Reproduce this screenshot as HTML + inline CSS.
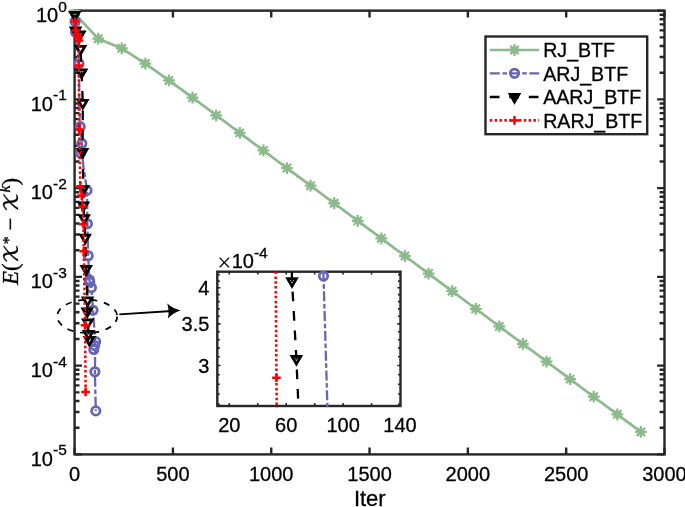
<!DOCTYPE html>
<html><head><meta charset="utf-8"><title>Convergence plot</title>
<style>html,body{margin:0;padding:0;background:#fff;}svg{display:block;}text{stroke:#000;stroke-width:0.3px;stroke-linejoin:round;}</style></head>
<body>
<svg width="685" height="507" viewBox="0 0 685 507">
<defs><clipPath id="cm"><rect x="40" y="9.4" width="624.5" height="445.0"/></clipPath><clipPath id="ci"><rect x="216.1" y="270.5" width="185.6" height="136.7"/></clipPath></defs>
<rect width="685" height="507" fill="#fff"/>
<path d="M74.60 454.40V447.60M74.60 10.65V17.45M172.92 454.40V447.60M172.92 10.65V17.45M271.23 454.40V447.60M271.23 10.65V17.45M369.55 454.40V447.60M369.55 10.65V17.45M467.87 454.40V447.60M467.87 10.65V17.45M566.18 454.40V447.60M566.18 10.65V17.45M664.50 454.40V447.60M664.50 10.65V17.45M74.60 10.65H82.00M664.50 10.65H657.10M74.60 99.40H82.00M664.50 99.40H657.10M74.60 188.15H82.00M664.50 188.15H657.10M74.60 276.90H82.00M664.50 276.90H657.10M74.60 365.65H82.00M664.50 365.65H657.10M74.60 454.40H82.00M664.50 454.40H657.10M74.60 72.68H79.50M664.50 72.68H659.60M74.60 57.06H79.50M664.50 57.06H659.60M74.60 45.97H79.50M664.50 45.97H659.60M74.60 37.37H79.50M664.50 37.37H659.60M74.60 30.34H79.50M664.50 30.34H659.60M74.60 24.40H79.50M664.50 24.40H659.60M74.60 19.25H79.50M664.50 19.25H659.60M74.60 14.71H79.50M664.50 14.71H659.60M74.60 161.43H79.50M664.50 161.43H659.60M74.60 145.81H79.50M664.50 145.81H659.60M74.60 134.72H79.50M664.50 134.72H659.60M74.60 126.12H79.50M664.50 126.12H659.60M74.60 119.09H79.50M664.50 119.09H659.60M74.60 113.15H79.50M664.50 113.15H659.60M74.60 108.00H79.50M664.50 108.00H659.60M74.60 103.46H79.50M664.50 103.46H659.60M74.60 250.18H79.50M664.50 250.18H659.60M74.60 234.56H79.50M664.50 234.56H659.60M74.60 223.47H79.50M664.50 223.47H659.60M74.60 214.87H79.50M664.50 214.87H659.60M74.60 207.84H79.50M664.50 207.84H659.60M74.60 201.90H79.50M664.50 201.90H659.60M74.60 196.75H79.50M664.50 196.75H659.60M74.60 192.21H79.50M664.50 192.21H659.60M74.60 338.93H79.50M664.50 338.93H659.60M74.60 323.31H79.50M664.50 323.31H659.60M74.60 312.22H79.50M664.50 312.22H659.60M74.60 303.62H79.50M664.50 303.62H659.60M74.60 296.59H79.50M664.50 296.59H659.60M74.60 290.65H79.50M664.50 290.65H659.60M74.60 285.50H79.50M664.50 285.50H659.60M74.60 280.96H79.50M664.50 280.96H659.60M74.60 427.68H79.50M664.50 427.68H659.60M74.60 412.06H79.50M664.50 412.06H659.60M74.60 400.97H79.50M664.50 400.97H659.60M74.60 392.37H79.50M664.50 392.37H659.60M74.60 385.34H79.50M664.50 385.34H659.60M74.60 379.40H79.50M664.50 379.40H659.60M74.60 374.25H79.50M664.50 374.25H659.60M74.60 369.71H79.50M664.50 369.71H659.60" stroke="#262626" stroke-width="2.4" fill="none"/>
<rect x="74.6" y="10.65" width="589.90" height="443.75" stroke="#262626" stroke-width="2.4" fill="none"/>
<g clip-path="url(#cm)">
<path d="M74.60 10.65 L75.00 14.00 L98.20 38.70 L121.79 48.30 L145.39 63.60 L168.98 80.40 L192.58 97.70 L216.18 115.29 L239.77 132.88 L263.37 150.47 L286.96 168.06 L310.56 185.65 L334.16 203.24 L357.75 220.83 L381.35 238.42 L404.94 256.01 L428.54 273.60 L452.14 291.19 L475.73 308.78 L499.33 326.36 L522.92 343.95 L546.52 361.54 L570.12 379.13 L593.71 396.72 L617.31 414.31 L640.90 431.90" stroke="#8cba8c" stroke-width="2.7" fill="none" stroke-linecap="butt" stroke-linejoin="round"/>
<circle cx="74.60" cy="10.65" r="3.5" fill="#8cba8c"/><path d="M68.70 10.65H80.50M74.60 4.75V16.55M70.43 6.48L78.77 14.82M70.43 14.82L78.77 6.48" stroke="#8cba8c" stroke-width="2.3" fill="none"/>
<circle cx="98.20" cy="38.70" r="3.5" fill="#8cba8c"/><path d="M92.30 38.70H104.10M98.20 32.80V44.60M94.02 34.53L102.37 42.87M94.02 42.87L102.37 34.53" stroke="#8cba8c" stroke-width="2.3" fill="none"/>
<circle cx="121.79" cy="48.30" r="3.5" fill="#8cba8c"/><path d="M115.89 48.30H127.69M121.79 42.40V54.20M117.62 44.13L125.96 52.47M117.62 52.47L125.96 44.13" stroke="#8cba8c" stroke-width="2.3" fill="none"/>
<circle cx="145.39" cy="63.60" r="3.5" fill="#8cba8c"/><path d="M139.49 63.60H151.29M145.39 57.70V69.50M141.22 59.43L149.56 67.77M141.22 67.77L149.56 59.43" stroke="#8cba8c" stroke-width="2.3" fill="none"/>
<circle cx="168.98" cy="80.40" r="3.5" fill="#8cba8c"/><path d="M163.08 80.40H174.88M168.98 74.50V86.30M164.81 76.23L173.16 84.57M164.81 84.57L173.16 76.23" stroke="#8cba8c" stroke-width="2.3" fill="none"/>
<circle cx="192.58" cy="97.70" r="3.5" fill="#8cba8c"/><path d="M186.68 97.70H198.48M192.58 91.80V103.60M188.41 93.53L196.75 101.87M188.41 101.87L196.75 93.53" stroke="#8cba8c" stroke-width="2.3" fill="none"/>
<circle cx="216.18" cy="115.29" r="3.5" fill="#8cba8c"/><path d="M210.28 115.29H222.08M216.18 109.39V121.19M212.00 111.12L220.35 119.46M212.00 119.46L220.35 111.12" stroke="#8cba8c" stroke-width="2.3" fill="none"/>
<circle cx="239.77" cy="132.88" r="3.5" fill="#8cba8c"/><path d="M233.87 132.88H245.67M239.77 126.98V138.78M235.60 128.71L243.94 137.05M235.60 137.05L243.94 128.71" stroke="#8cba8c" stroke-width="2.3" fill="none"/>
<circle cx="263.37" cy="150.47" r="3.5" fill="#8cba8c"/><path d="M257.47 150.47H269.27M263.37 144.57V156.37M259.20 146.30L267.54 154.64M259.20 154.64L267.54 146.30" stroke="#8cba8c" stroke-width="2.3" fill="none"/>
<circle cx="286.96" cy="168.06" r="3.5" fill="#8cba8c"/><path d="M281.06 168.06H292.86M286.96 162.16V173.96M282.79 163.89L291.14 172.23M282.79 172.23L291.14 163.89" stroke="#8cba8c" stroke-width="2.3" fill="none"/>
<circle cx="310.56" cy="185.65" r="3.5" fill="#8cba8c"/><path d="M304.66 185.65H316.46M310.56 179.75V191.55M306.39 181.48L314.73 189.82M306.39 189.82L314.73 181.48" stroke="#8cba8c" stroke-width="2.3" fill="none"/>
<circle cx="334.16" cy="203.24" r="3.5" fill="#8cba8c"/><path d="M328.26 203.24H340.06M334.16 197.34V209.14M329.98 199.07L338.33 207.41M329.98 207.41L338.33 199.07" stroke="#8cba8c" stroke-width="2.3" fill="none"/>
<circle cx="357.75" cy="220.83" r="3.5" fill="#8cba8c"/><path d="M351.85 220.83H363.65M357.75 214.93V226.73M353.58 216.66L361.92 225.00M353.58 225.00L361.92 216.66" stroke="#8cba8c" stroke-width="2.3" fill="none"/>
<circle cx="381.35" cy="238.42" r="3.5" fill="#8cba8c"/><path d="M375.45 238.42H387.25M381.35 232.52V244.32M377.18 234.24L385.52 242.59M377.18 242.59L385.52 234.24" stroke="#8cba8c" stroke-width="2.3" fill="none"/>
<circle cx="404.94" cy="256.01" r="3.5" fill="#8cba8c"/><path d="M399.04 256.01H410.84M404.94 250.11V261.91M400.77 251.83L409.12 260.18M400.77 260.18L409.12 251.83" stroke="#8cba8c" stroke-width="2.3" fill="none"/>
<circle cx="428.54" cy="273.60" r="3.5" fill="#8cba8c"/><path d="M422.64 273.60H434.44M428.54 267.70V279.50M424.37 269.42L432.71 277.77M424.37 277.77L432.71 269.42" stroke="#8cba8c" stroke-width="2.3" fill="none"/>
<circle cx="452.14" cy="291.19" r="3.5" fill="#8cba8c"/><path d="M446.24 291.19H458.04M452.14 285.29V297.09M447.96 287.01L456.31 295.36M447.96 295.36L456.31 287.01" stroke="#8cba8c" stroke-width="2.3" fill="none"/>
<circle cx="475.73" cy="308.78" r="3.5" fill="#8cba8c"/><path d="M469.83 308.78H481.63M475.73 302.88V314.68M471.56 304.60L479.90 312.95M471.56 312.95L479.90 304.60" stroke="#8cba8c" stroke-width="2.3" fill="none"/>
<circle cx="499.33" cy="326.36" r="3.5" fill="#8cba8c"/><path d="M493.43 326.36H505.23M499.33 320.46V332.26M495.16 322.19L503.50 330.54M495.16 330.54L503.50 322.19" stroke="#8cba8c" stroke-width="2.3" fill="none"/>
<circle cx="522.92" cy="343.95" r="3.5" fill="#8cba8c"/><path d="M517.02 343.95H528.82M522.92 338.05V349.85M518.75 339.78L527.10 348.13M518.75 348.13L527.10 339.78" stroke="#8cba8c" stroke-width="2.3" fill="none"/>
<circle cx="546.52" cy="361.54" r="3.5" fill="#8cba8c"/><path d="M540.62 361.54H552.42M546.52 355.64V367.44M542.35 357.37L550.69 365.72M542.35 365.72L550.69 357.37" stroke="#8cba8c" stroke-width="2.3" fill="none"/>
<circle cx="570.12" cy="379.13" r="3.5" fill="#8cba8c"/><path d="M564.22 379.13H576.02M570.12 373.23V385.03M565.94 374.96L574.29 383.31M565.94 383.31L574.29 374.96" stroke="#8cba8c" stroke-width="2.3" fill="none"/>
<circle cx="593.71" cy="396.72" r="3.5" fill="#8cba8c"/><path d="M587.81 396.72H599.61M593.71 390.82V402.62M589.54 392.55L597.88 400.90M589.54 400.90L597.88 392.55" stroke="#8cba8c" stroke-width="2.3" fill="none"/>
<circle cx="617.31" cy="414.31" r="3.5" fill="#8cba8c"/><path d="M611.41 414.31H623.21M617.31 408.41V420.21M613.14 410.14L621.48 418.48M613.14 418.48L621.48 410.14" stroke="#8cba8c" stroke-width="2.3" fill="none"/>
<circle cx="640.90" cy="431.90" r="3.5" fill="#8cba8c"/><path d="M635.00 431.90H646.80M640.90 426.00V437.80M636.73 427.73L645.08 436.07M636.73 436.07L645.08 427.73" stroke="#8cba8c" stroke-width="2.3" fill="none"/>
<path d="M75.10 21.50 L75.50 32.00 L79.00 63.80 L79.30 100.00 L80.20 126.70 L81.80 143.50 L83.20 165.00 L87.00 190.40 L87.40 223.80 L88.20 255.70 L89.30 279.70 L91.40 287.80 L93.00 310.30 L95.00 338.00 L95.20 350.00 L94.90 371.80 L95.80 410.90" stroke="#6666b4" stroke-width="2.3" fill="none" stroke-dasharray="10 2.6 4.6 2.6" stroke-linecap="butt" stroke-linejoin="round"/>
<circle cx="75.10" cy="21.50" r="4.2" stroke="#6666b4" stroke-width="2.8" fill="none"/>
<circle cx="75.50" cy="32.00" r="4.2" stroke="#6666b4" stroke-width="2.8" fill="none"/>
<circle cx="79.00" cy="63.80" r="4.2" stroke="#6666b4" stroke-width="2.8" fill="none"/>
<circle cx="80.20" cy="126.70" r="4.2" stroke="#6666b4" stroke-width="2.8" fill="none"/>
<circle cx="81.80" cy="143.50" r="4.2" stroke="#6666b4" stroke-width="2.8" fill="none"/>
<circle cx="80.50" cy="153.00" r="4.2" stroke="#6666b4" stroke-width="2.8" fill="none"/>
<circle cx="87.00" cy="190.40" r="4.2" stroke="#6666b4" stroke-width="2.8" fill="none"/>
<circle cx="87.40" cy="223.80" r="4.2" stroke="#6666b4" stroke-width="2.8" fill="none"/>
<circle cx="88.20" cy="255.70" r="4.2" stroke="#6666b4" stroke-width="2.8" fill="none"/>
<circle cx="89.30" cy="279.70" r="4.2" stroke="#6666b4" stroke-width="2.8" fill="none"/>
<circle cx="89.80" cy="282.00" r="4.2" stroke="#6666b4" stroke-width="2.8" fill="none"/>
<circle cx="91.40" cy="287.80" r="4.2" stroke="#6666b4" stroke-width="2.8" fill="none"/>
<circle cx="93.00" cy="310.30" r="4.2" stroke="#6666b4" stroke-width="2.8" fill="none"/>
<circle cx="95.70" cy="341.60" r="4.2" stroke="#6666b4" stroke-width="2.8" fill="none"/>
<circle cx="94.60" cy="345.50" r="4.2" stroke="#6666b4" stroke-width="2.8" fill="none"/>
<circle cx="93.80" cy="349.50" r="4.2" stroke="#6666b4" stroke-width="2.8" fill="none"/>
<circle cx="94.90" cy="371.80" r="4.2" stroke="#6666b4" stroke-width="2.8" fill="none"/>
<circle cx="95.80" cy="410.90" r="4.2" stroke="#6666b4" stroke-width="2.8" fill="none"/>
<path d="M74.80 14.80 L75.60 30.30 L79.80 34.50 L80.60 48.80 L81.60 72.50 L82.80 103.00 L82.60 152.00 L83.40 189.20 L83.40 205.30 L84.20 218.10 L85.20 237.60 L86.20 269.00 L87.60 300.30 L87.20 311.40 L87.80 322.40 L88.50 334.00 L89.40 339.90" stroke="#000" stroke-width="2.3" fill="none" stroke-dasharray="9.7 9.8" stroke-linecap="butt" stroke-linejoin="round"/>
<path d="M70.40 12.26H79.20L74.80 19.88Z" stroke="#000" stroke-width="2.75" fill="none" stroke-linejoin="miter"/>
<path d="M71.20 27.76H80.00L75.60 35.38Z" stroke="#000" stroke-width="2.75" fill="none" stroke-linejoin="miter"/>
<path d="M75.40 31.96H84.20L79.80 39.58Z" stroke="#000" stroke-width="2.75" fill="none" stroke-linejoin="miter"/>
<path d="M76.20 46.26H85.00L80.60 53.88Z" stroke="#000" stroke-width="2.75" fill="none" stroke-linejoin="miter"/>
<path d="M77.20 69.96H86.00L81.60 77.58Z" stroke="#000" stroke-width="2.75" fill="none" stroke-linejoin="miter"/>
<path d="M78.40 100.46H87.20L82.80 108.08Z" stroke="#000" stroke-width="2.75" fill="none" stroke-linejoin="miter"/>
<path d="M78.20 149.46H87.00L82.60 157.08Z" stroke="#000" stroke-width="2.75" fill="none" stroke-linejoin="miter"/>
<path d="M79.00 186.66H87.80L83.40 194.28Z" stroke="#000" stroke-width="2.75" fill="none" stroke-linejoin="miter"/>
<path d="M79.00 202.76H87.80L83.40 210.38Z" stroke="#000" stroke-width="2.75" fill="none" stroke-linejoin="miter"/>
<path d="M79.80 215.56H88.60L84.20 223.18Z" stroke="#000" stroke-width="2.75" fill="none" stroke-linejoin="miter"/>
<path d="M80.80 235.06H89.60L85.20 242.68Z" stroke="#000" stroke-width="2.75" fill="none" stroke-linejoin="miter"/>
<path d="M81.80 266.46H90.60L86.20 274.08Z" stroke="#000" stroke-width="2.75" fill="none" stroke-linejoin="miter"/>
<path d="M83.20 297.76H92.00L87.60 305.38Z" stroke="#000" stroke-width="2.75" fill="none" stroke-linejoin="miter"/>
<path d="M82.80 308.86H91.60L87.20 316.48Z" stroke="#000" stroke-width="2.75" fill="none" stroke-linejoin="miter"/>
<path d="M83.40 319.86H92.20L87.80 327.48Z" stroke="#000" stroke-width="2.75" fill="none" stroke-linejoin="miter"/>
<path d="M84.10 331.46H92.90L88.50 339.08Z" stroke="#000" stroke-width="2.75" fill="none" stroke-linejoin="miter"/>
<path d="M85.00 337.36H93.80L89.40 344.98Z" stroke="#000" stroke-width="2.75" fill="none" stroke-linejoin="miter"/>
<path d="M75.00 21.60 L75.80 30.50 L77.00 34.00 L78.20 37.30 L79.00 40.50 L78.70 65.50 L79.30 129.40 L80.30 186.80 L81.80 195.50 L82.60 206.60 L83.40 224.20 L83.80 251.30 L85.10 325.30 L85.60 391.90" stroke="#ff0000" stroke-width="2.6" fill="none" stroke-dasharray="2.5 2.35" stroke-linecap="butt" stroke-linejoin="round"/>
<path d="M70.60 21.60H79.40M75.00 17.20V26.00" stroke="#ff0000" stroke-width="2.5" fill="none"/>
<path d="M71.40 30.50H80.20M75.80 26.10V34.90" stroke="#ff0000" stroke-width="2.5" fill="none"/>
<path d="M72.60 34.00H81.40M77.00 29.60V38.40" stroke="#ff0000" stroke-width="2.5" fill="none"/>
<path d="M73.80 37.30H82.60M78.20 32.90V41.70" stroke="#ff0000" stroke-width="2.5" fill="none"/>
<path d="M74.60 40.50H83.40M79.00 36.10V44.90" stroke="#ff0000" stroke-width="2.5" fill="none"/>
<path d="M74.30 65.50H83.10M78.70 61.10V69.90" stroke="#ff0000" stroke-width="2.5" fill="none"/>
<path d="M74.90 129.40H83.70M79.30 125.00V133.80" stroke="#ff0000" stroke-width="2.5" fill="none"/>
<path d="M75.90 186.80H84.70M80.30 182.40V191.20" stroke="#ff0000" stroke-width="2.5" fill="none"/>
<path d="M77.40 195.50H86.20M81.80 191.10V199.90" stroke="#ff0000" stroke-width="2.5" fill="none"/>
<path d="M78.20 206.60H87.00M82.60 202.20V211.00" stroke="#ff0000" stroke-width="2.5" fill="none"/>
<path d="M79.00 224.20H87.80M83.40 219.80V228.60" stroke="#ff0000" stroke-width="2.5" fill="none"/>
<path d="M79.40 251.30H88.20M83.80 246.90V255.70" stroke="#ff0000" stroke-width="2.5" fill="none"/>
<path d="M80.70 325.30H89.50M85.10 320.90V329.70" stroke="#ff0000" stroke-width="2.5" fill="none"/>
<path d="M81.20 391.90H90.00M85.60 387.50V396.30" stroke="#ff0000" stroke-width="2.5" fill="none"/>
</g>
<g font-family='"Liberation Sans", Arial, Helvetica, sans-serif' font-size="20" fill="#000" text-anchor="middle">
<text x="74.60" y="480.5">0</text>
<text x="172.92" y="480.5">500</text>
<text x="271.23" y="480.5">1000</text>
<text x="369.55" y="480.5">1500</text>
<text x="467.87" y="480.5">2000</text>
<text x="566.18" y="480.5">2500</text>
<text x="664.50" y="480.5">3000</text>
</g>
<g font-family='"Liberation Sans", Arial, Helvetica, sans-serif' fill="#000">
<text x="66.8" y="21.85" font-size="20" text-anchor="end">10<tspan font-size="15.5" dy="-10.2">0</tspan></text>
<text x="66.8" y="110.60" font-size="20" text-anchor="end">10<tspan font-size="15.5" dy="-10.2">-1</tspan></text>
<text x="66.8" y="199.35" font-size="20" text-anchor="end">10<tspan font-size="15.5" dy="-10.2">-2</tspan></text>
<text x="66.8" y="288.10" font-size="20" text-anchor="end">10<tspan font-size="15.5" dy="-10.2">-3</tspan></text>
<text x="66.8" y="376.85" font-size="20" text-anchor="end">10<tspan font-size="15.5" dy="-10.2">-4</tspan></text>
<text x="66.8" y="465.60" font-size="20" text-anchor="end">10<tspan font-size="15.5" dy="-10.2">-5</tspan></text>
</g>
<text x="369.8" y="506.4" font-family='"Liberation Sans", Arial, Helvetica, sans-serif' font-size="22" text-anchor="middle">Iter</text>
<g transform="translate(17.7,231.4) rotate(-90)"><text x="0" y="0" text-anchor="middle" font-size="23" font-family="'Liberation Serif', serif"><tspan font-style="italic">E</tspan>(<tspan font-size="20" font-family="'DejaVu Math TeX Gyre','Latin Modern Math','STIX Two Math','Liberation Serif',serif">&#x1D4B3;</tspan><tspan font-size="16" dy="-4">*</tspan><tspan dy="4"> &#x2212; </tspan><tspan font-size="20" font-family="'DejaVu Math TeX Gyre','Latin Modern Math','STIX Two Math','Liberation Serif',serif">&#x1D4B3;</tspan><tspan font-size="16" dy="-8" font-style="italic">k</tspan><tspan dy="8">)</tspan></text></g>
<rect x="485.5" y="36.5" width="161.70" height="97.70" fill="#fff" stroke="#262626" stroke-width="2.4"/>
<path d="M489.80 50.00 L539.20 50.00" stroke="#8cba8c" stroke-width="2.7" fill="none" stroke-linecap="butt" stroke-linejoin="round"/>
<circle cx="514.50" cy="50.00" r="3.5" fill="#8cba8c"/><path d="M508.60 50.00H520.40M514.50 44.10V55.90M510.33 45.83L518.67 54.17M510.33 54.17L518.67 45.83" stroke="#8cba8c" stroke-width="2.3" fill="none"/>
<path d="M489.80 73.30 L539.20 73.30" stroke="#6666b4" stroke-width="2.3" fill="none" stroke-dasharray="10 2.6 4.6 2.6" stroke-linecap="butt" stroke-linejoin="round"/>
<circle cx="514.50" cy="73.30" r="4.2" stroke="#6666b4" stroke-width="2.8" fill="none"/>
<path d="M489.80 97.00 L539.20 97.00" stroke="#000" stroke-width="2.3" fill="none" stroke-dasharray="9.7 9.8" stroke-linecap="butt" stroke-linejoin="round"/>
<path d="M510.10 94.46H518.90L514.50 102.08Z" stroke="#000" stroke-width="2.75" fill="#000" stroke-linejoin="miter"/>
<path d="M489.80 120.40 L539.20 120.40" stroke="#ff0000" stroke-width="2.6" fill="none" stroke-dasharray="2.5 2.35" stroke-linecap="butt" stroke-linejoin="round"/>
<path d="M510.10 120.40H518.90M514.50 116.00V124.80" stroke="#ff0000" stroke-width="2.5" fill="none"/>
<g font-family='"Liberation Sans", Arial, Helvetica, sans-serif' font-size="19.6" fill="#000">
<text x="543.2" y="57.20">RJ_BTF</text>
<text x="543.2" y="80.50">ARJ_BTF</text>
<text x="543.2" y="104.20">AARJ_BTF</text>
<text x="543.2" y="127.60">RARJ_BTF</text>
</g>
<ellipse cx="87.2" cy="316.4" rx="30" ry="16.6" fill="none" stroke="#000" stroke-width="1.7" stroke-dasharray="6.3 6.6" stroke-dashoffset="0.5"/>
<path d="M119.3 314.3L172 311" stroke="#000" stroke-width="1.8" fill="none"/>
<path d="M180.6 310.4Q173.5 309 167.2 303.6Q169.6 311 167.9 318.6Q173.5 312.2 180.6 310.4Z" fill="#000"/>
<rect x="217.3" y="271.7" width="183.20" height="134.30" fill="#fff" stroke="none"/>
<path d="M229.30 406.00V403.10M229.30 271.70V274.60M257.75 406.00V403.10M257.75 271.70V274.60M286.20 406.00V403.10M286.20 271.70V274.60M314.65 406.00V403.10M314.65 271.70V274.60M343.10 406.00V403.10M343.10 271.70V274.60M371.55 406.00V403.10M371.55 271.70V274.60M400.00 406.00V403.10M400.00 271.70V274.60M217.30 404.26H219.80M400.50 404.26H398.00M217.30 394.06H219.80M400.50 394.06H398.00M217.30 384.23H219.80M400.50 384.23H398.00M217.30 374.74H219.80M400.50 374.74H398.00M217.30 365.57H220.50M400.50 365.57H397.30M217.30 356.71H219.80M400.50 356.71H398.00M217.30 348.13H219.80M400.50 348.13H398.00M217.30 339.81H219.80M400.50 339.81H398.00M217.30 331.74H219.80M400.50 331.74H398.00M217.30 323.90H220.50M400.50 323.90H397.30M217.30 316.28H219.80M400.50 316.28H398.00M217.30 308.88H219.80M400.50 308.88H398.00M217.30 301.67H219.80M400.50 301.67H398.00M217.30 294.64H219.80M400.50 294.64H398.00M217.30 287.80H220.50M400.50 287.80H397.30M217.30 281.12H219.80M400.50 281.12H398.00M217.30 274.61H219.80M400.50 274.61H398.00" stroke="#262626" stroke-width="1.6" fill="none"/>
<rect x="217.3" y="271.7" width="183.20" height="134.30" fill="none" stroke="#262626" stroke-width="2.4"/>
<g clip-path="url(#ci)">
<path d="M275.45 252.15 L276.75 410.00" stroke="#ff0000" stroke-width="2.6" fill="none" stroke-dasharray="2.5 2.35" stroke-linecap="butt" stroke-linejoin="round"/>
<path d="M272.15 377.80H280.75M276.45 373.50V382.10" stroke="#ff0000" stroke-width="2.5" fill="none"/>
<path d="M291.50 252.60 L292.00 281.20 L296.40 358.80 L298.60 410.00" stroke="#000" stroke-width="2.3" fill="none" stroke-dasharray="9.7 9.8" stroke-linecap="butt" stroke-linejoin="round"/>
<path d="M287.60 278.66H296.40L292.00 286.28Z" stroke="#000" stroke-width="2.75" fill="none" stroke-linejoin="miter"/>
<path d="M292.00 356.26H300.80L296.40 363.88Z" stroke="#000" stroke-width="2.75" fill="none" stroke-linejoin="miter"/>
<path d="M323.40 251.70 L323.50 276.10 L327.50 410.00" stroke="#6666b4" stroke-width="2.3" fill="none" stroke-dasharray="10 2.6 4.6 2.6" stroke-linecap="butt" stroke-linejoin="round"/>
</g>
<circle cx="323.50" cy="276.10" r="4.2" stroke="#6666b4" stroke-width="2.8" fill="none"/>
<g font-family='"Liberation Sans", Arial, Helvetica, sans-serif' font-size="20" fill="#000" text-anchor="middle">
<text x="229.30" y="432.4">20</text>
<text x="286.20" y="432.4">60</text>
<text x="343.10" y="432.4">100</text>
<text x="400.00" y="432.4">140</text>
</g>
<g font-family='"Liberation Sans", Arial, Helvetica, sans-serif' font-size="20" fill="#000" text-anchor="end">
<text x="209.4" y="294.90">4</text>
<text x="209.4" y="331.00">3.5</text>
<text x="209.4" y="372.67">3</text>
</g>
<text x="224.4" y="270.8" font-family="'Liberation Serif', serif" font-size="25" fill="#000" text-anchor="middle" style="stroke-width:0">&#xD7;</text>
<text x="231.7" y="267.6" font-family='"Liberation Sans", Arial, Helvetica, sans-serif' font-size="20" fill="#000">10<tspan font-size="15.5" dy="-10">-4</tspan></text>
</svg>
</body></html>
